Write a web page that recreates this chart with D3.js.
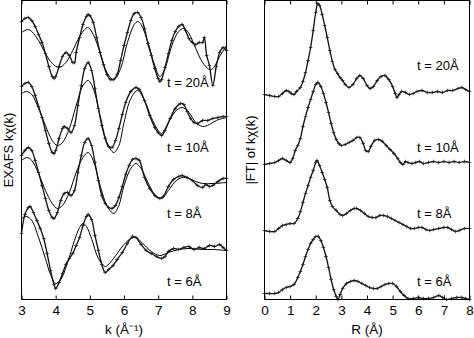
<!DOCTYPE html>
<html><head><meta charset="utf-8">
<script src="https://cdn.jsdelivr.net/npm/d3@7"></script>
<style>
html,body{margin:0;padding:0;background:#fff;}
text{font-family:"Liberation Sans",Arial,Helvetica,sans-serif;fill:#000;}
</style></head>
<body><svg id="c" width="474" height="338"></svg>
<script>
// ---- Data (y in arbitrary units, curves already vertically offset) ----
const seriesLabels = ["t = 20Å", "t = 10Å", "t = 8Å", "t = 6Å"];
const kTicks = [3,4,5,6,7,8,9];
const rTicks = [0,1,2,3,4,5,6,7,8];

// EXAFS k·chi(k): measured (k, value)
const exafs20 = [[3.0,278],[3.1,281],[3.2,282],[3.3,279],[3.4,273],[3.5,265],[3.6,257],[3.7,246],[3.8,233],[3.9,223],[3.95,221],[4.0,223],[4.1,233],[4.2,243],[4.3,247],[4.4,244],[4.5,237],[4.55,237],[4.6,247],[4.7,262],[4.8,275],[4.9,283],[4.95,285],[5.0,284],[5.1,277],[5.2,262],[5.3,247],[5.4,235],[5.5,225],[5.6,220],[5.7,220],[5.8,225],[5.9,239],[6.0,254],[6.1,267],[6.2,279],[6.3,286],[6.4,287],[6.5,282],[6.6,271],[6.7,256],[6.8,244],[6.9,231],[7.0,221],[7.05,218],[7.1,220],[7.2,232],[7.3,246],[7.4,259],[7.5,268],[7.6,273],[7.7,275],[7.8,269],[7.9,261],[8.0,257],[8.1,255],[8.2,257],[8.3,257],[8.35,262],[8.42,244],[8.5,234],[8.6,214],[8.7,233],[8.8,247],[8.9,252],[9.0,249]];
const exafs10 = [[3.0,213],[3.1,216],[3.2,217],[3.3,213],[3.4,204],[3.5,193],[3.6,182],[3.7,169],[3.8,156],[3.9,147],[3.95,146],[4.0,149],[4.1,161],[4.2,171],[4.25,173],[4.35,171],[4.45,167],[4.55,174],[4.65,194],[4.75,214],[4.85,231],[4.95,237],[5.05,229],[5.15,211],[5.25,191],[5.35,174],[5.45,161],[5.55,153],[5.65,152],[5.75,159],[5.85,171],[5.95,185],[6.05,197],[6.2,208],[6.35,212],[6.45,210],[6.6,199],[6.75,184],[6.9,172],[7.0,167],[7.1,164],[7.2,169],[7.35,181],[7.5,191],[7.65,196],[7.75,195],[7.85,188],[7.95,181],[8.05,177],[8.15,176],[8.3,179],[8.45,179],[8.6,181],[8.75,182],[8.9,183],[9.0,183]];
const exafs8 = [[3.0,144],[3.1,149],[3.2,152],[3.3,149],[3.4,139],[3.5,127],[3.6,114],[3.7,101],[3.8,89],[3.9,82],[3.95,81],[4.05,87],[4.15,99],[4.25,106],[4.35,107],[4.45,104],[4.55,109],[4.65,127],[4.75,144],[4.85,157],[4.95,161],[5.05,154],[5.15,137],[5.25,119],[5.35,104],[5.45,96],[5.55,92],[5.65,91],[5.75,94],[5.85,102],[5.95,113],[6.05,125],[6.15,134],[6.25,140],[6.35,141],[6.45,139],[6.6,122],[6.75,111],[6.9,104],[7.05,101],[7.15,103],[7.3,113],[7.45,120],[7.6,123],[7.7,124],[7.85,122],[8.0,119],[8.15,114],[8.3,112],[8.4,115],[8.5,113],[8.6,114],[8.75,118],[8.9,121],[9.0,121]];
const exafs6 = [[3.0,66],[3.1,85],[3.2,92],[3.25,93],[3.35,87],[3.45,79],[3.55,71],[3.65,61],[3.75,46],[3.85,29],[3.95,15],[4.0,11],[4.1,17],[4.2,26],[4.3,35],[4.4,41],[4.5,46],[4.6,54],[4.7,62],[4.8,74],[4.9,83],[4.95,85],[5.05,80],[5.15,64],[5.25,49],[5.35,35],[5.45,27],[5.55,30],[5.68,34],[5.8,40],[5.95,47],[6.1,56],[6.25,63],[6.35,62],[6.5,55],[6.65,49],[6.8,46],[6.95,43],[7.1,41],[7.2,43],[7.3,48],[7.45,51],[7.6,50],[7.75,52],[7.9,53],[8.05,50],[8.2,52],[8.35,51],[8.5,54],[8.65,53],[8.8,55],[8.9,52],[9.0,49]];

// EXAFS fits
const fit20 = [[3.0,267],[3.1,269],[3.2,270],[3.3,268],[3.5,259],[3.7,246],[3.9,236],[4.1,232],[4.3,237],[4.5,249],[4.7,263],[4.85,270],[4.95,272],[5.1,265],[5.3,247],[5.5,227],[5.7,220],[5.9,231],[6.1,257],[6.3,275],[6.4,278],[6.5,275],[6.7,257],[6.9,234],[7.05,223],[7.2,231],[7.4,254],[7.6,268],[7.75,271],[7.9,266],[8.1,251],[8.3,237],[8.5,230],[8.6,231],[8.8,243],[9.0,254]];
const fit10 = [[3.0,206],[3.15,208],[3.3,205],[3.5,191],[3.7,174],[3.9,159],[4.05,154],[4.2,157],[4.4,171],[4.6,194],[4.8,214],[4.95,219],[5.1,211],[5.3,184],[5.5,157],[5.7,147],[5.85,154],[6.0,177],[6.2,201],[6.4,209],[6.6,199],[6.8,182],[7.0,169],[7.1,166],[7.3,177],[7.5,188],[7.7,192],[7.9,187],[8.1,177],[8.3,173],[8.5,175],[8.7,179],[9.0,182]];
const fit8 = [[3.0,139],[3.15,142],[3.3,139],[3.5,126],[3.7,109],[3.9,96],[4.05,91],[4.2,94],[4.4,107],[4.6,127],[4.8,142],[4.95,147],[5.1,139],[5.3,114],[5.5,94],[5.7,86],[5.85,94],[6.0,114],[6.2,131],[6.35,136],[6.5,131],[6.7,117],[6.9,105],[7.1,101],[7.3,109],[7.5,118],[7.7,122],[7.9,121],[8.1,118],[8.3,116],[8.6,116],[9.0,117]];
const fit6 = [[3.0,81],[3.15,83],[3.3,79],[3.5,62],[3.7,41],[3.85,25],[4.0,16],[4.15,20],[4.35,37],[4.55,59],[4.7,72],[4.8,76],[4.9,73],[5.05,61],[5.25,41],[5.45,33],[5.6,37],[5.8,46],[6.0,55],[6.2,61],[6.35,62],[6.55,56],[6.8,48],[7.05,44],[7.3,47],[7.6,50],[7.9,51],[8.3,50],[8.6,50],[9.0,49]];

// |FT| of k·chi(k): (R, value)
const ft20 = [[0,205],[0.2,204],[0.4,203],[0.55,203],[0.7,206],[0.85,209],[0.95,208],[1.05,206],[1.15,205],[1.25,208],[1.4,212],[1.5,218],[1.6,227],[1.7,239],[1.8,252],[1.9,269],[2.0,287],[2.08,296],[2.15,294],[2.25,285],[2.35,274],[2.45,262],[2.55,249],[2.65,238],[2.75,230],[2.85,226],[2.95,222],[3.05,219],[3.15,215],[3.3,212],[3.45,215],[3.6,221],[3.72,224],[3.85,221],[4.0,214],[4.12,211],[4.25,213],[4.4,219],[4.55,223],[4.7,224],[4.85,220],[5.0,213],[5.1,206],[5.17,202],[5.25,205],[5.35,208],[5.5,207],[5.65,205],[5.8,206],[5.95,208],[6.15,209],[6.35,207],[6.55,207],[6.75,208],[6.95,207],[7.15,209],[7.35,209],[7.55,211],[7.7,212],[7.85,210],[8.0,208]];
const ft10 = [[0,135],[0.2,136],[0.4,137],[0.55,139],[0.7,141],[0.85,139],[1.0,137],[1.1,141],[1.2,149],[1.3,154],[1.4,161],[1.5,173],[1.6,183],[1.7,192],[1.8,200],[1.9,208],[2.0,215],[2.08,217],[2.2,213],[2.3,206],[2.4,197],[2.5,187],[2.6,176],[2.7,167],[2.8,160],[2.9,156],[3.0,154],[3.15,155],[3.3,157],[3.45,159],[3.6,162],[3.72,162],[3.85,156],[3.95,149],[4.05,148],[4.15,153],[4.3,159],[4.45,160],[4.6,158],[4.75,154],[4.9,150],[5.05,146],[5.2,141],[5.3,137],[5.4,135],[5.5,138],[5.6,137],[5.75,136],[5.9,137],[6.05,138],[6.2,136],[6.4,137],[6.6,138],[6.8,137],[7.0,138],[7.2,137],[7.4,138],[7.6,137],[7.8,138],[8.0,137]];
const ft8 = [[0,69],[0.2,68],[0.4,68],[0.55,71],[0.7,74],[0.85,75],[1.0,76],[1.15,76],[1.3,81],[1.4,88],[1.5,97],[1.6,106],[1.7,114],[1.8,122],[1.9,129],[2.0,137],[2.05,139],[2.15,134],[2.25,127],[2.35,120],[2.45,112],[2.55,99],[2.65,93],[2.8,89],[2.95,85],[3.05,84],[3.2,86],[3.35,89],[3.5,91],[3.6,91],[3.75,89],[3.9,86],[4.05,83],[4.2,82],[4.35,82],[4.5,84],[4.65,84],[4.8,83],[4.95,81],[5.1,79],[5.25,77],[5.4,75],[5.55,73],[5.7,71],[5.85,71],[6.0,72],[6.15,72],[6.3,70],[6.45,69],[6.6,70],[6.8,71],[7.0,72],[7.15,72],[7.3,70],[7.45,68],[7.6,69],[7.8,71],[8.0,71]];
const ft6 = [[0,6],[0.2,6],[0.4,6],[0.55,7],[0.7,10],[0.85,12],[1.0,13],[1.15,15],[1.3,22],[1.4,28],[1.5,35],[1.6,43],[1.7,50],[1.8,56],[1.9,60],[2.0,63],[2.1,63],[2.2,59],[2.3,52],[2.4,43],[2.5,32],[2.6,20],[2.7,10],[2.8,3],[2.87,0],[2.95,5],[3.05,11],[3.2,16],[3.35,18],[3.5,19],[3.65,18],[3.8,16],[3.95,14],[4.1,12],[4.25,11],[4.4,11],[4.55,13],[4.7,15],[4.85,16],[5.0,16],[5.15,13],[5.3,8],[5.45,4],[5.6,1],[5.8,1],[6.0,2],[6.2,1],[6.4,1],[6.6,2],[6.8,4],[6.95,2],[7.1,0],[7.3,1],[7.5,2],[7.7,2],[7.85,1],[8.0,0]];

// label anchor values (same arbitrary units)
const leftLabelY = [217.5, 152, 86, 18.5];
const rightLabelY = [234, 152, 86, 18.5];

// ---- Drawing ----
const svg = d3.select("#c");
const H0 = 0.5, H1 = 299.5;
const panels = [
  {x0:21.5, x1:226.5, domain:[3,9], ticks:kTicks, data:[exafs20,exafs10,exafs8,exafs6], fits:[fit20,fit10,fit8,fit6],
   labelX:167, labelY:leftLabelY, title:"k (Å⁻¹)", ylab:"EXAFS kχ(k)", ylabX:8},
  {x0:264.5, x1:469.5, domain:[0,8], ticks:rTicks, data:[ft20,ft10,ft8,ft6], fits:null,
   labelX:417, labelY:rightLabelY, title:"R (Å)", ylab:"|FT| of kχ(k)", ylabX:250}
];

panels.forEach(p => {
  const x = d3.scaleLinear().domain(p.domain).range([p.x0, p.x1]);
  const y = d3.scaleLinear().domain([0, 299]).range([299.5, 0.5]);
  const g = svg.append("g");

  const line = d3.line().x(d => x(d[0])).y(d => y(d[1])).curve(d3.curveCatmullRom.alpha(0.5));

  if (p.fits) p.fits.forEach(f => {
    g.append("path").attr("d", line(f)).attr("fill","none").attr("stroke","#000").attr("stroke-width",1);
  });
  p.data.forEach(s => {
    g.append("path").attr("d", line(s)).attr("fill","none").attr("stroke","#111").attr("stroke-width",1.3);
    g.selectAll(null).data(s).enter().append("path")
      .attr("transform", d => `translate(${x(d[0])},${y(d[1])})`)
      .attr("d","M-1.8,0H1.8M0,-1.8V1.8").attr("stroke","#222").attr("stroke-width",0.8).attr("fill","none");
  });

  // frame
  g.append("rect").attr("x",p.x0).attr("y",H0).attr("width",p.x1-p.x0).attr("height",H1-H0)
    .attr("fill","none").attr("stroke","#000").attr("stroke-width",1);

  const bottom = g.append("g").attr("transform",`translate(0,${H1})`)
    .call(d3.axisBottom(x).tickValues(p.ticks).tickSize(-4).tickPadding(6).tickFormat(d3.format("d")));
  const top = g.append("g").attr("transform",`translate(0,${H0})`)
    .call(d3.axisTop(x).tickValues(p.ticks).tickSize(-4).tickFormat(""));
  [bottom, top].forEach(a => { a.select(".domain").remove(); a.selectAll("line").attr("stroke","#000"); });
  bottom.selectAll("text").attr("font-size",13.5).attr("font-family","Liberation Sans, Arial, sans-serif");

  p.data.forEach((s,i) => {
    g.append("text").attr("x",p.labelX).attr("y",y(p.labelY[i])).attr("dy","0.35em")
      .attr("font-size",13).text(seriesLabels[i]);
  });

  g.append("text").attr("x",(p.x0+p.x1)/2).attr("y",334).attr("text-anchor","middle")
    .attr("font-size",13.5).text(p.title);
  g.append("text").attr("transform",`translate(${p.ylabX},150) rotate(-90)`).attr("text-anchor","middle")
    .attr("dy","0.35em").attr("font-size",13).text(p.ylab);
});
</script></body></html>
